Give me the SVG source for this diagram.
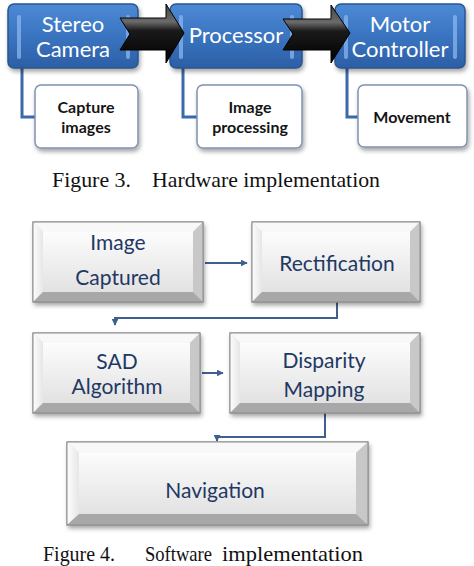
<svg xmlns="http://www.w3.org/2000/svg" width="474" height="566" viewBox="0 0 474 566">
<style>
.bt{font-family:Lato,"Open Sans",sans-serif;font-size:22px;fill:#fff;text-anchor:middle}
.st{font-family:Lato,"Open Sans",sans-serif;font-size:16px;font-weight:bold;fill:#151515;text-anchor:middle}
.gt{font-family:Lato,"Open Sans",sans-serif;font-size:21px;fill:#1f3864;text-anchor:middle}
.cap{font-family:"Liberation Serif","Times New Roman",serif;font-size:21px;fill:#111}
.bbox{fill:url(#gblue);stroke:#2a568f;stroke-width:1.5}
.hl{fill:#8fbaf0;opacity:.7}
.sub{fill:#fff;stroke:#7f93b3;stroke-width:1.5}
.hw{fill:none;stroke:#3b69aa;stroke-width:3}
.sw{fill:none;stroke:#3f5f8e;stroke-width:2}
.blk{fill:url(#gblk);stroke:#000;stroke-width:1}
.go{fill:#d4d4d4;stroke:#8a8a8a;stroke-width:1}
.bt1{fill:#f8f8f8}
.bl{fill:url(#gleft)}
.br{fill:#c8c8c8}
.bb{fill:#a8a8a8}
.face{fill:url(#gface)}
.edge{fill:none;stroke:#8a8a8a;stroke-width:1}
</style>
<defs>
<linearGradient id="gblue" x1="0" y1="0" x2="0" y2="1">
<stop offset="0" stop-color="#4d8ad6"/><stop offset="0.5" stop-color="#3a74c0"/><stop offset="1" stop-color="#2c5fa6"/>
</linearGradient>
<linearGradient id="gblk" x1="0" y1="0" x2="0" y2="1">
<stop offset="0" stop-color="#444"/><stop offset="0.3" stop-color="#6a6a6a"/><stop offset="0.45" stop-color="#1a1a1a"/><stop offset="1" stop-color="#000"/>
</linearGradient>
<linearGradient id="gleft" x1="0" y1="0" x2="1" y2="0">
<stop offset="0" stop-color="#fdfdfd"/><stop offset="1" stop-color="#e6e6e6"/>
</linearGradient>
<linearGradient id="gface" x1="0" y1="0" x2="0" y2="1">
<stop offset="0" stop-color="#fcfcfc"/><stop offset="1" stop-color="#e2e2e2"/>
</linearGradient>
<filter id="sh" x="-10%" y="-10%" width="130%" height="140%">
<feDropShadow dx="1.5" dy="3" stdDeviation="2" flood-color="#000" flood-opacity="0.35"/>
</filter>
<marker id="ah" viewBox="0 0 10 10" refX="9" refY="5" markerWidth="7" markerHeight="7" markerUnits="userSpaceOnUse" orient="auto">
<path d="M0,0 L10,5 L0,10 z" fill="#3f5f8e"/>
</marker>
</defs>

<g id="connectors">
<path class="hw" d="M22,68 V117 H36"/>
<path class="hw" d="M183,68 V117 H198"/>
<path class="hw" d="M347,68 V117 H359"/>
<path class="sw" d="M205,263 H247" marker-end="url(#ah)"/>
<path class="sw" d="M337,302 V318 H115 V325" marker-end="url(#ah)"/>
<path class="sw" d="M202,373 H223" marker-end="url(#ah)"/>
<path class="sw" d="M325,413 V437 H217 V441" marker-end="url(#ah)"/>
</g>

<g id="stereo-camera">
<rect class="bbox" x="8" y="4" width="130" height="64" rx="6" filter="url(#sh)"/>
<rect class="hl" x="17" y="15" width="4" height="44" rx="2"/>
<rect class="hl" x="126" y="15" width="4" height="44" rx="2"/>
<text class="bt" x="73" y="32">Stereo</text>
<text class="bt" x="73" y="57">Camera</text>
</g>
<g id="processor">
<rect class="bbox" x="170" y="4" width="132" height="64" rx="6" filter="url(#sh)"/>
<rect class="hl" x="179" y="15" width="4" height="44" rx="2"/>
<rect class="hl" x="290" y="15" width="4" height="44" rx="2"/>
<text class="bt" x="236" y="43">Processor</text>
</g>
<g id="motor-controller">
<rect class="bbox" x="335" y="4" width="130" height="64" rx="6" filter="url(#sh)"/>
<rect class="hl" x="344" y="15" width="4" height="44" rx="2"/>
<rect class="hl" x="453" y="15" width="4" height="44" rx="2"/>
<text class="bt" x="400" y="32">Motor</text>
<text class="bt" x="400" y="57">Controller</text>
</g>
<g id="arrow-1">
<polygon class="blk" points="120,18 166,18 166,4 184,33 166,63 166,50 120,50 130,34"/>
</g>
<g id="arrow-2">
<polygon class="blk" points="283,19 331,19 331,5 350,33 331,63 331,50 283,50 293,34"/>
</g>

<g id="capture-images">
<rect class="sub" x="35" y="85" width="103" height="63" rx="6" filter="url(#sh)"/>
<text class="st" x="86" y="113">Capture</text>
<text class="st" x="86" y="133">images</text>
</g>
<g id="image-processing">
<rect class="sub" x="197" y="85" width="105" height="63" rx="6" filter="url(#sh)"/>
<text class="st" x="250" y="113">Image</text>
<text class="st" x="250" y="133">processing</text>
</g>
<g id="movement">
<rect class="sub" x="358" y="85" width="109" height="62" rx="6" filter="url(#sh)"/>
<text class="st" x="412" y="123">Movement</text>
</g>

<text class="cap" x="52" y="187" textLength="79" lengthAdjust="spacingAndGlyphs">Figure 3.</text>
<text class="cap" x="152" y="187" textLength="228" lengthAdjust="spacingAndGlyphs">Hardware implementation</text>

<g id="image-captured">
<rect class="go" x="33" y="222" width="170" height="80" filter="url(#sh)"/>
<polygon class="bt1" points="33,222 203,222 193,232 43,232"/>
<polygon class="bl" points="33,222 43,232 43,292 33,302"/>
<polygon class="br" points="203,222 203,302 193,292 193,232"/>
<polygon class="bb" points="33,302 203,302 193,292 43,292"/>
<rect class="face" x="43" y="232" width="150" height="60"/>
<rect class="edge" x="33" y="222" width="170" height="80"/>
<text class="gt" x="118" y="250">Image</text>
<text class="gt" x="118" y="285">Captured</text>
</g>
<g id="rectification">
<rect class="go" x="252" y="222" width="168" height="80" filter="url(#sh)"/>
<polygon class="bt1" points="252,222 420,222 410,232 262,232"/>
<polygon class="bl" points="252,222 262,232 262,292 252,302"/>
<polygon class="br" points="420,222 420,302 410,292 410,232"/>
<polygon class="bb" points="252,302 420,302 410,292 262,292"/>
<rect class="face" x="262" y="232" width="148" height="60"/>
<rect class="edge" x="252" y="222" width="168" height="80"/>
<text class="gt" x="337" y="271">Rectification</text>
</g>
<g id="sad-algorithm">
<rect class="go" x="33" y="333" width="167" height="80" filter="url(#sh)"/>
<polygon class="bt1" points="33,333 200,333 190,343 43,343"/>
<polygon class="bl" points="33,333 43,343 43,403 33,413"/>
<polygon class="br" points="200,333 200,413 190,403 190,343"/>
<polygon class="bb" points="33,413 200,413 190,403 43,403"/>
<rect class="face" x="43" y="343" width="147" height="60"/>
<rect class="edge" x="33" y="333" width="167" height="80"/>
<text class="gt" x="117" y="369">SAD</text>
<text class="gt" x="117" y="394">Algorithm</text>
</g>
<g id="disparity-mapping">
<rect class="go" x="230" y="333" width="190" height="80" filter="url(#sh)"/>
<polygon class="bt1" points="230,333 420,333 410,343 240,343"/>
<polygon class="bl" points="230,333 240,343 240,403 230,413"/>
<polygon class="br" points="420,333 420,413 410,403 410,343"/>
<polygon class="bb" points="230,413 420,413 410,403 240,403"/>
<rect class="face" x="240" y="343" width="170" height="60"/>
<rect class="edge" x="230" y="333" width="190" height="80"/>
<text class="gt" x="324" y="368">Disparity</text>
<text class="gt" x="324" y="397">Mapping</text>
</g>
<g id="navigation">
<rect class="go" x="67" y="442" width="301" height="83" filter="url(#sh)"/>
<polygon class="bt1" points="67,442 368,442 356,453 79,453"/>
<polygon class="bl" points="67,442 79,453 79,514 67,525"/>
<polygon class="br" points="368,442 368,525 356,514 356,453"/>
<polygon class="bb" points="67,525 368,525 356,514 79,514"/>
<rect class="face" x="79" y="453" width="277" height="61"/>
<rect class="edge" x="67" y="442" width="301" height="83"/>
<text class="gt" x="215" y="498">Navigation</text>
</g>

<text class="cap" x="43" y="561" textLength="72" lengthAdjust="spacingAndGlyphs">Figure 4.</text>
<text class="cap" x="145" y="561" textLength="67" lengthAdjust="spacingAndGlyphs">Software</text>
<text class="cap" x="222" y="561" textLength="141" lengthAdjust="spacingAndGlyphs">implementation</text>
</svg>
